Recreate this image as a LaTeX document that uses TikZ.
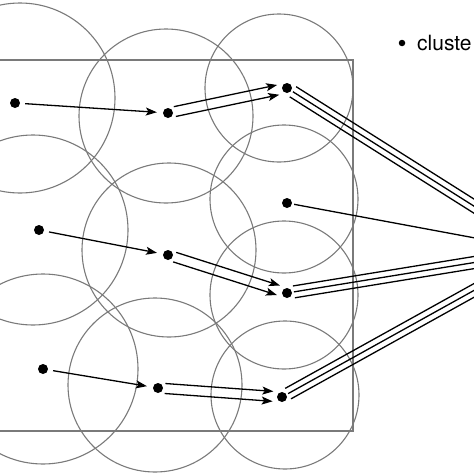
\documentclass[tikz,border=0pt]{standalone}
\usepackage{fontspec}
\setmainfont{TeX Gyre Heros}
\usetikzlibrary{arrows.meta, calc}
\tikzset{
        x=1pt, y=-1pt, % pixel-like coordinates, y runs downwards
        >={Stealth[length=11pt, width=8pt, inset=2.5pt]}, % arrow heads
        sensor/.style={circle, fill=black, inner sep=0pt, minimum size=10pt}, % sensor nodes
        rangering/.style={draw=black!52, line width=1.1pt}, % radio range of a sensor
        link/.style={line width=1.3pt}, % plain connector
        hop/.style={link, ->, shorten <=5pt, shorten >=6pt}, % single hop
    }
\begin{document}
\begin{tikzpicture}
    \useasboundingbox (0,0) rectangle (474,474);
    \clip (0,0) rectangle (474,474);
    % the field
    \draw[black!52, line width=1.5pt] (-10,60) rectangle (353,431);
    % radio ranges
    \foreach \cx/\cy/\r in {20/98/95, 33/230/95, 43/369/95,
                            166/116/87, 169/250/87, 155/385/87,
                            279/88/74, 284/199/74, 284/295/74, 285/395/74}
        \draw[rangering] (\cx,\cy) circle[radius=\r pt];
    % sensors
    \node[sensor] (p1) at (15,103) {};
    \node[sensor] (p2) at (168,113) {};
    \node[sensor] (p3) at (287,88) {};
    \node[sensor] (p4) at (287,203) {};
    \node[sensor] (p5) at (39,230) {};
    \node[sensor] (p6) at (168,255) {};
    \node[sensor] (p7) at (287,293) {};
    \node[sensor] (p8) at (43,369) {};
    \node[sensor] (p9) at (158,388) {};
    \node[sensor] (p10) at (282,397) {};
    \coordinate (sink) at (545,251);
    % first hops
    \draw[hop] (p1) -- (p2);
    \draw[hop] (p5) -- (p6);
    \draw[hop] (p8) -- (p9);
    % second hops, two lines each
    \foreach \a/\b in {p2/p3, p6/p7, p9/p10}
      \foreach \o in {-5pt, 5pt}
        \draw[link, ->, shorten <=7pt, shorten >=9pt]
          ($(\a.center)!\o!90:(\b.center)$) -- ($(\b.center)!\o!-90:(\a.center)$);
    % towards the sink
    \draw[link, shorten <=2pt] (p4) -- (sink);
    \foreach \a in {p3, p7, p10}
      \foreach \o in {-6pt, 0pt, 6pt}
        \draw[link, shorten <=7pt]
          ($(\a.center)!\o!90:(sink)$) -- ($(sink)!\o!-90:(\a.center)$);
    % legend
    \node[sensor, minimum size=6.5pt] (key) at (402,43) {};
    \node[anchor=base west, inner sep=0pt, font=\fontsize{21}{25}\selectfont] (keytext) at (417,50) {cluste};
\end{tikzpicture}
\end{document}
